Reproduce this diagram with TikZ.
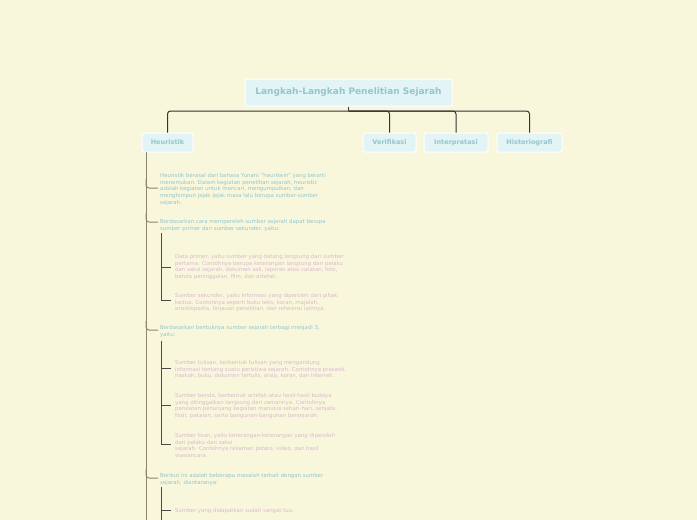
\documentclass[tikz,border=0pt]{standalone}
\usepackage{fontspec}
\setmainfont{DejaVu Sans}
\begin{document}
\begin{tikzpicture}[x=1pt,y=-1pt,
  box/.style={draw=white,line width=1pt,fill=boxfill,rounded corners=2pt,text=boxtext,font=\bfseries\fontsize{6.5}{7}\selectfont,inner sep=0pt},
  lvl1/.style={anchor=north west,align=left,text=blutext,font=\fontsize{5.4}{6.7}\selectfont,inner sep=0pt},
  lvl2/.style={anchor=north west,align=left,text=pinktext,font=\fontsize{5.4}{6.7}\selectfont,inner sep=0pt},
  conn/.style={draw=black!80,line width=1pt,rounded corners=3pt},
  trunk/.style={draw=trunkc,line width=1pt,rounded corners=3pt},
  sub/.style={draw=black!70,line width=0.8pt}]
\definecolor{bg}{HTML}{F8F7DC}
\definecolor{boxfill}{HTML}{E2F4F5}
\definecolor{boxtext}{HTML}{94C6CE}
\definecolor{blutext}{HTML}{94C6CE}
\definecolor{pinktext}{HTML}{DDB8D0}
\definecolor{trunkc}{HTML}{8A8670}
\fill[bg] (0,0) rectangle (697,520);
\useasboundingbox (0,0) rectangle (697,520);
\node[box,minimum width=207,minimum height=27,font=\bfseries\fontsize{9}{10}\selectfont] (root) at (348.5,92.5) {Langkah-Langkah Penelitian Sejarah};
\node[box,minimum width=51,minimum height=19] (h) at (167.5,142.5) {Heuristik};
\node[box,minimum width=53,minimum height=19] (v) at (389.5,142.5) {Verifikasi};
\node[box,minimum width=64,minimum height=19] (i) at (456,142.5) {Interpretasi};
\node[box,minimum width=65,minimum height=19] (g) at (529.5,142.5) {Historiografi};
\coordinate (j) at (348.5,111);
\draw[conn] (root.south) -- (j);
\draw[conn] (j) -| (h.north);
\draw[conn] (j) -| (v.north);
\draw[conn] (j) -| (i.north);
\draw[conn] (j) -| (g.north);
% level 1 texts
\node[lvl1] (t1) at (160,173) {Heuristik berasal dari bahasa Yunani "heurikein" yang berarti\\menemukan. Dalam kegiatan penelitian sejarah, heuristic\\adalah kegiatan untuk mencari, mengumpulkan, dan\\menghimpun jejak-jejak masa lalu berupa sumber-sumber\\sejarah.};
\node[lvl1] (t2) at (160,219) {Berdasarkan cara memperoleh sumber sejarah dapat berupa\\sumber primer dan sumber sekunder, yaitu:};
\node[lvl1] (t3) at (160,325) {Berdasarkan bentuknya sumber sejarah terbagi menjadi 3,\\yaitu:};
\node[lvl1] (t4) at (160,473) {Berikut ini adalah beberapa masalah terkait dengan sumber\\sejarah, diantaranya:};
% level 2 texts
\node[lvl2] (s1) at (175,254) {Data primer, yaitu sumber yang datang langsung dari sumber\\pertama. Contohnya berupa keterangan langsung dari pelaku\\dan saksi sejarah, dokumen asli, laporan atau catatan, foto,\\benda peninggalan, film, dan artefak.};
\node[lvl2] (s2) at (175,293) {Sumber sekunder, yaitu informasi yang diperoleh dari pihak\\kedua. Contohnya seperti buku teks, koran, majalah,\\ensiklopedia, tinjauan penelitian, dan referensi lainnya.};
\node[lvl2] (s3) at (175,360) {Sumber tulisan, berbentuk tulisan yang mengandung\\informasi tentang suatu peristiwa sejarah. Contohnya prasasti,\\naskah, buku, dokumen tertulis, arsip, koran, dan internet.};
\node[lvl2] (s4) at (175,393) {Sumber benda, berbentuk artefak atau hasil-hasil budaya\\yang ditinggalkan langsung dari zamannya. Contohnya\\peralatan penunjang kegiatan manusia sehari-hari, senjata,\\fosil, pakaian, serta bangunan-bangunan bersejarah.};
\node[lvl2] (s5) at (175,433) {Sumber lisan, yaitu keterangan-keterangan yang diperoleh\\dari pelaku dan saksi\\ sejarah. Contohnya rekaman pidato, video, dan hasil\\wawancara.};
\node[lvl2] (s6) at (175,508) {Sumber yang didapatkan sudah sangat tua.};
% trunk
\coordinate (hb) at (146,530);
\draw[trunk] (146,152) -- (hb);
\draw[trunk] (146,179) |- (158,188);
\draw[trunk] (146,213) |- (158,222);
\draw[trunk] (146,321) |- (158,330);
\draw[trunk] (146,469) |- (158,478);
% sub trunks
\draw[sub] (161,233) -- (161,300) -- (171,300);
\draw[sub] (161,267) -- (171,267);
\draw[sub] (161,341) -- (161,444) -- (171,444);
\draw[sub] (161,368) -- (171,368);
\draw[sub] (161,405) -- (171,405);
\draw[sub] (161,487) -- (161,525);
\draw[sub] (161,510) -- (171,510);
\end{tikzpicture}
\end{document}
